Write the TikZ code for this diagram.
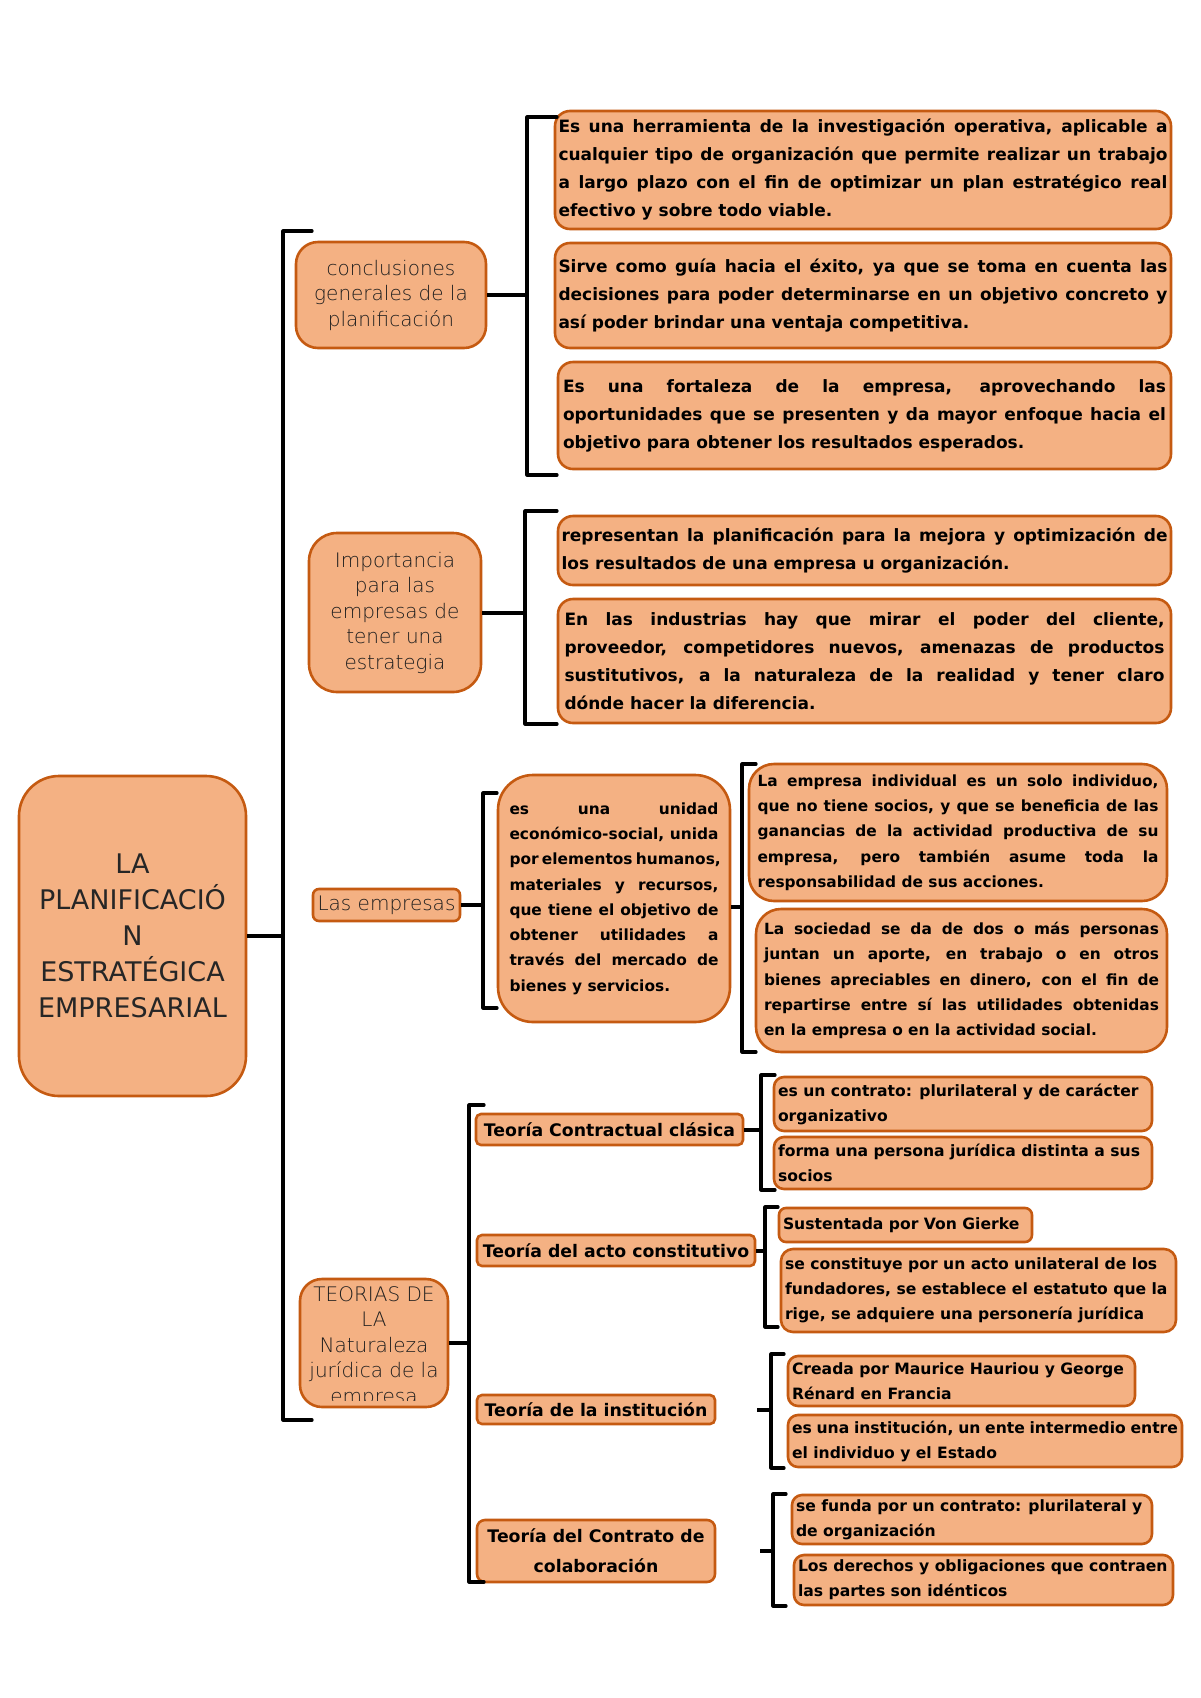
\documentclass[tikz,border=0pt]{standalone}
\usepackage{fontspec}
\setmainfont{DejaVu Sans}
\newfontfamily\thinfont{DejaVuSans-ExtraLight.ttf}
\definecolor{boxfill}{HTML}{F4B183}
\definecolor{boxline}{HTML}{C55A11}
\definecolor{labelgray}{HTML}{1E1E1E}
\definecolor{titlegray}{HTML}{262626}
\newcommand\tblock[2]{\vbox{\hsize=#1\relax #2}}
\newcommand\jline[1]{\hbox to\hsize{\spaceskip=\fontdimen2\font plus 1fil minus 0.4\fontdimen2\font\relax#1}}
\newcommand\lline[1]{\hbox to\hsize{\spaceskip=\fontdimen2\font plus 0pt minus 0.4\fontdimen2\font\relax#1\hfil}}
\tikzset{
  obox/.style={draw=boxline, fill=boxfill, line width=2.6pt, inner sep=0pt, text=black},
  btext/.style={font=\bfseries\fontsize{17}{28}\selectfont},
  stext/.style={font=\bfseries\fontsize{15.6}{25}\selectfont},
  mtext/.style={font=\bfseries\fontsize{15.4}{25.3}\selectfont},
  ttext/.style={font=\bfseries\fontsize{17.3}{30}\selectfont},
  lbl/.style={text=labelgray, font=\thinfont\fontsize{20}{25.5}\selectfont, align=center},
  brk/.style={line width=3.2pt, line cap=round, line join=round},
  conn/.style={line width=4pt},
}
\begin{document}
\begin{tikzpicture}[x=1pt,y=-1pt]
\fill[white] (0,0) rectangle (1200,1698);
\useasboundingbox (0,0) rectangle (1200,1698);

% ---------- main ----------
\node[obox, rounded corners=40pt, minimum width=227pt, minimum height=320pt,
      font=\fontsize{27}{36}\selectfont, align=center, text=titlegray] (main) at (132.5,936)
  {LA\\PLANIFICACIÓ\\N\\ESTRATÉGICA\\EMPRESARIAL};

% ---------- level 1 ----------
\node[obox, lbl, rounded corners=22pt, minimum width=190pt, minimum height=106pt] (concl) at (391,295)
  {conclusiones\\generales de la\\planificación};
\node[obox, lbl, rounded corners=28pt, minimum width=172pt, minimum height=159pt] (impo) at (395,612.5)
  {Importancia\\para las\\empresas de\\tener una\\estrategia};
\node[obox, lbl, rounded corners=6pt, minimum width=147pt, minimum height=32pt] (lasemp) at (386.5,905)
  {Las empresas};
\node[obox, rounded corners=22pt, minimum width=148pt, minimum height=128pt] (teor) at (374,1343) {};
\begin{scope}
  \clip (300,1281) rectangle (448,1400);
  \node[lbl] (teortxt) at (374,1347) {TEORIAS DE\\LA\\Naturaleza\\jurídica de la\\empresa};
\end{scope}

% ---------- group 1 ----------
\node[obox, btext, rounded corners=15pt, minimum width=616pt, minimum height=118pt] (b1a) at (863,170)
  {\tblock{609pt}{%
   \jline{Es una herramienta de la investigación operativa, aplicable a}
   \jline{cualquier tipo de organización que permite realizar un trabajo}
   \jline{a largo plazo con el fin de optimizar un plan estratégico real}
   \lline{efectivo y sobre todo viable.}}};
\node[obox, btext, rounded corners=15pt, minimum width=616pt, minimum height=105pt] (b1b) at (863,295.5)
  {\tblock{609pt}{%
   \jline{Sirve como guía hacia el éxito, ya que se toma en cuenta las}
   \jline{decisiones para poder determinarse en un objetivo concreto y}
   \lline{así poder brindar una ventaja competitiva.}}};
\node[obox, btext, rounded corners=15pt, minimum width=613pt, minimum height=107pt] (b1c) at (864.5,415.5)
  {\tblock{603pt}{%
   \jline{Es una fortaleza de la empresa, aprovechando las}
   \jline{oportunidades que se presenten y da mayor enfoque hacia el}
   \lline{objetivo para obtener los resultados esperados.}}};

% ---------- group 2 ----------
\node[obox, btext, rounded corners=15pt, minimum width=613pt, minimum height=69pt] (b2a) at (864.5,550.5)
  {\tblock{606pt}{%
   \jline{representan la planificación para la mejora y optimización de}
   \lline{los resultados de una empresa u organización.}}};
\node[obox, btext, rounded corners=15pt, minimum width=613pt, minimum height=124pt] (b2b) at (864.5,661)
  {\tblock{600pt}{%
   \jline{En las industrias hay que mirar el poder del cliente,}
   \jline{proveedor, competidores nuevos, amenazas de productos}
   \jline{sustitutivos, a la naturaleza de la realidad y tener claro}
   \lline{dónde hacer la diferencia.}}};

% ---------- group 3 ----------
\node[obox, mtext, rounded corners=35pt, minimum width=232pt, minimum height=247pt] (b3) at (614,898.5)
  {\tblock{209pt}{%
   \jline{es una unidad}
   \jline{económico-social, unida}
   \jline{por elementos humanos,}
   \jline{materiales y recursos,}
   \jline{que tiene el objetivo de}
   \jline{obtener utilidades a}
   \jline{través del mercado de}
   \lline{bienes y servicios.}}};
\node[obox, mtext, rounded corners=25pt, minimum width=418pt, minimum height=137pt] (b3a) at (958,832.5)
  {\tblock{401pt}{%
   \jline{La empresa individual es un solo individuo,}
   \jline{que no tiene socios, y que se beneficia de las}
   \jline{ganancias de la actividad productiva de su}
   \jline{empresa, pero también asume toda la}
   \lline{responsabilidad de sus acciones.}}};
\node[obox, mtext, rounded corners=25pt, minimum width=411pt, minimum height=143pt] (b3b) at (961.5,980.5)
  {\tblock{395pt}{%
   \jline{La sociedad se da de dos o más personas}
   \jline{juntan un aporte, en trabajo o en otros}
   \jline{bienes apreciables en dinero, con el fin de}
   \jline{repartirse entre sí las utilidades obtenidas}
   \lline{en la empresa o en la actividad social.}}};

% ---------- theories ----------
\node[obox, ttext, rounded corners=5pt, minimum width=267pt, minimum height=31pt] (t1) at (609.5,1129.5)
  {Teoría Contractual clásica};
\node[obox, ttext, rounded corners=5pt, minimum width=278pt, minimum height=31pt] (t2) at (616,1250.5)
  {Teoría del acto constitutivo};
\node[obox, ttext, rounded corners=5pt, minimum width=238pt, minimum height=29pt] (t3) at (596,1409.5)
  {Teoría de la institución};
\node[obox, ttext, align=center, rounded corners=8pt, minimum width=238pt, minimum height=62pt] (t4) at (596,1551)
  {Teoría del Contrato de\\colaboración};

\node[obox, stext, rounded corners=10pt, minimum width=378pt, minimum height=54pt] (b7a) at (963,1104)
  {\tblock{370pt}{\lline{es un contrato: plurilateral y de carácter}\lline{organizativo}}};
\node[obox, stext, rounded corners=10pt, minimum width=378pt, minimum height=52pt] (b7b) at (963,1163)
  {\tblock{370pt}{\lline{forma una persona jurídica distinta a sus}\lline{socios}}};
\node[obox, stext, rounded corners=7pt, minimum width=253pt, minimum height=34pt] (b8a) at (905.5,1225)
  {\tblock{245pt}{\lline{Sustentada por Von Gierke}}};
\node[obox, stext, rounded corners=12pt, minimum width=395pt, minimum height=83pt] (b8b) at (978.5,1290.5)
  {\tblock{387pt}{\lline{se constituye por un acto unilateral de los}\lline{fundadores, se establece el estatuto que la}\lline{rige, se adquiere una personería jurídica}}};
\node[obox, stext, rounded corners=10pt, minimum width=347pt, minimum height=50pt] (b9a) at (961.5,1381)
  {\tblock{339pt}{\lline{Creada por Maurice Hauriou y George}\lline{Rénard en Francia}}};
\node[obox, stext, rounded corners=10pt, minimum width=394pt, minimum height=52pt] (b9b) at (985,1441)
  {\tblock{386pt}{\lline{es una institución, un ente intermedio entre}\lline{el individuo y el Estado}}};
\node[obox, stext, rounded corners=10pt, minimum width=360pt, minimum height=49pt] (b10a) at (972,1519.5)
  {\tblock{352pt}{\lline{se funda por un contrato: plurilateral y}\lline{de organización}}};
\node[obox, stext, rounded corners=10pt, minimum width=379pt, minimum height=50pt] (b10b) at (983.5,1580)
  {\tblock{371pt}{\lline{Los derechos y obligaciones que contraen}\lline{las partes son idénticos}}};

% ---------- brackets ----------
\draw[brk] (312,231) -- (283,231) -- (283,1420) -- (312,1420);
\coordinate (k0) at (283,936);
\draw[brk] (557,117) -- (527,117) -- (527,475) -- (557,475);
\coordinate (k1) at (527,295);
\draw[brk] (557,511) -- (525,511) -- (525,724) -- (557,724);
\coordinate (k2) at (525,612.5);
\draw[brk] (497,793) -- (483,793) -- (483,1008) -- (497,1008);
\coordinate (k3) at (483,905);
\draw[brk] (756,764) -- (742,764) -- (742,1052) -- (756,1052);
\coordinate (k4) at (742,907);
\draw[brk] (484,1105) -- (469,1105) -- (469,1582) -- (484,1582);
\coordinate (k5) at (469,1343);
\draw[brk] (775,1075) -- (761,1075) -- (761,1190) -- (775,1190);
\coordinate (k6) at (761,1129.5);
\draw[brk] (778,1207) -- (765,1207) -- (765,1327) -- (778,1327);
\coordinate (k7) at (765,1250.5);
\draw[brk] (784,1354) -- (771,1354) -- (771,1468) -- (784,1468);
\coordinate (k8) at (771,1410);
\coordinate (s8) at (757,1410);
\draw[brk] (786,1494) -- (773,1494) -- (773,1606) -- (786,1606);
\coordinate (k9) at (773,1551);
\coordinate (s9) at (760,1551);

% ---------- connectors ----------
\draw[conn] (main.east) -- (k0);
\draw[conn] (concl.east) -- (k1);
\draw[conn] (impo.east) -- (k2);
\draw[conn] (lasemp.east) -- (k3);
\draw[conn] (b3.east |- k4) -- (k4);
\draw[conn] (teor.east) -- (k5);
\draw[conn] (t1.east) -- (k6);
\draw[conn] (t2.east) -- (k7);
\draw[conn] (s8) -- (k8);
\draw[conn] (s9) -- (k9);
\end{tikzpicture}
\end{document}
